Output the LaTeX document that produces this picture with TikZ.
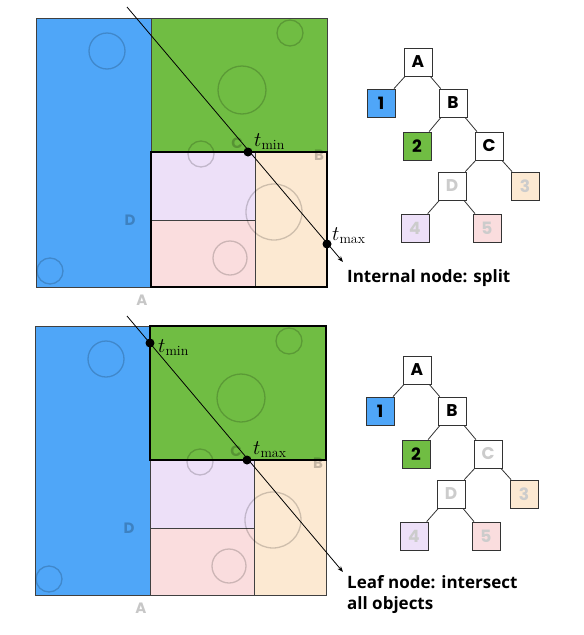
\documentclass[tikz,border=0pt]{standalone}
\usepackage{fontspec}
\setsansfont{Open Sans}
\newfontfamily\treefont{Poppins}
\usetikzlibrary{arrows.meta}

\definecolor{kdblue}{RGB}{79,166,248}
\definecolor{kdgreen}{RGB}{112,189,67}
\definecolor{kdlilac}{RGB}{237,224,248}
\definecolor{kdpink}{RGB}{250,221,222}
\definecolor{kdpeach}{RGB}{252,233,210}

\tikzset{
	cell/.style={draw=black!75, line width=0.8pt},
	blob/.style={draw=black, draw opacity=0.18, line width=1.3pt},
	plane/.style={text=black, text opacity=0.22, font=\treefont\bfseries\fontsize{15}{15}\selectfont},
	active/.style={draw=black, line width=2.4pt},
	ray/.style={draw=black, line width=0.8pt, -{Stealth[length=6pt]}},
	hit/.style={fill=black},
	tnode/.style={draw=black!80, fill=white, minimum size=28pt, inner sep=0pt, line width=0.8pt,
		font=\treefont\bfseries\fontsize{17}{17}\selectfont},
	faded/.style={text=black!20},
	tedge/.style={draw=black!80, line width=0.8pt},
	caption/.style={anchor=west, align=left, inner sep=0pt, font=\sffamily\bfseries\fontsize{17}{21}\selectfont},
	tlabel/.style={inner sep=0pt, font=\fontsize{20}{20}\selectfont},
}

% the scene, shared by both panels
\newcommand\kdscene{
	\fill[kdblue] (36,18) rectangle (151,287);
	\fill[kdgreen] (151,18) rectangle (327,152);
	\fill[kdlilac] (151,152) rectangle (255,220);
	\fill[kdpink] (151,220) rectangle (255,287);
	\fill[kdpeach] (255,152) rectangle (327,287);

	\draw[cell] (36,18) rectangle (327,287);
	\draw[cell] (151,18) -- (151,287);
	\draw[cell] (151,152) -- (327,152);
	\draw[cell] (255,152) -- (255,287);
	\draw[cell] (151,220) -- (255,220);

	\draw[blob] (107,51) circle[radius=18];
	\draw[blob] (50,271) circle[radius=13];
	\draw[blob] (242,90) circle[radius=24];
	\draw[blob] (290,33) circle[radius=13];
	\draw[blob] (201,154) circle[radius=13];
	\draw[blob] (274,212) circle[radius=28];
	\draw[blob] (230,258) circle[radius=17];

	\node[plane] (pA) at (142,300) {A};
	\node[plane] (pB) at (319,155) {B};
	\node[plane] (pC) at (237,143) {C};
	\node[plane] (pD) at (130,220) {D};
}

% the tree, #1 = style of node C
\newcommand\kdtree[1]{
	\node[tnode] (A) at (418,62) {A};
	\node[tnode, fill=kdblue] (n1) at (381,103) {1};
	\node[tnode] (B) at (453,103) {B};
	\node[tnode, fill=kdgreen] (n2) at (417,146) {2};
	\node[tnode, #1] (C) at (489,146) {C};
	\node[tnode, faded] (D) at (452,186) {D};
	\node[tnode, faded, fill=kdpeach] (n3) at (525,186) {3};
	\node[tnode, faded, fill=kdlilac] (n4) at (415,228) {4};
	\node[tnode, faded, fill=kdpink] (n5) at (487,228) {5};

	\draw[tedge] (A) -- (n1);
	\draw[tedge] (A) -- (B);
	\draw[tedge] (B) -- (n2);
	\draw[tedge] (B) -- (C);
	\draw[tedge] (C) -- (D);
	\draw[tedge] (C) -- (n3);
	\draw[tedge] (D) -- (n4);
	\draw[tedge] (D) -- (n5);
}

\begin{document}
\begin{tikzpicture}[x=1pt, y=-1pt]
	\useasboundingbox (0,0) rectangle (584,635);

	% internal node
	\begin{scope}[name prefix=top-]
		\kdscene
		\draw[active] (151,152) rectangle (327,287);
		\coordinate (raystart) at (127,7);
		\coordinate (rayend) at (343,262);
		\draw[ray] (raystart) -- (rayend);
		\coordinate (tmin) at (248,152);
		\coordinate (tmax) at (327,244);
		\fill[hit] (tmin) circle[radius=4.5];
		\fill[hit] (tmax) circle[radius=4.5];
		\node[tlabel, anchor=south west] (tminlabel) at (254,150) {$t_{\min}$};
		\node[tlabel, anchor=west] (tmaxlabel) at (332,236) {$t_{\max}$};
		\node[caption] (note) at (347,278) {Internal node: split};
		\kdtree{}
	\end{scope}

	% leaf node
	\begin{scope}[name prefix=bot-, shift={(-1,308)}]
		\kdscene
		\draw[active] (151,18) rectangle (327,152);
		\coordinate (raystart) at (128,8);
		\coordinate (rayend) at (344,264);
		\draw[ray] (raystart) -- (rayend);
		\coordinate (tmin) at (151,35);
		\coordinate (tmax) at (248,152);
		\fill[hit] (tmin) circle[radius=4.5];
		\fill[hit] (tmax) circle[radius=4.5];
		\node[tlabel, anchor=west] (tminlabel) at (159,40) {$t_{\min}$};
		\node[tlabel, anchor=south west] (tmaxlabel) at (254,150) {$t_{\max}$};
		\node[caption, anchor=north west] (note) at (348,267) {Leaf node: intersect\\all objects};
		\kdtree{faded}
	\end{scope}
\end{tikzpicture}
\end{document}
